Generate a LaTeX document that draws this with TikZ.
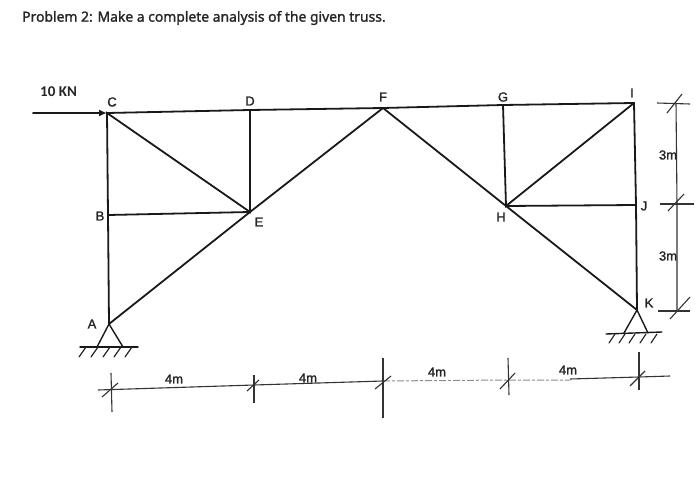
\documentclass[tikz,border=0pt]{standalone}
\usepackage{fontspec}
\setmainfont{Carlito}
\newfontfamily\handfont[FakeBold=1.5]{Liberation Sans}
\newfontfamily\titlefont[FakeBold=1.5]{Noto Sans}
\usetikzlibrary{arrows.meta}
\tikzset{
  member/.style={draw=black!90,line width=1.8pt,line cap=round},
  thinln/.style={draw=black!85,line width=1.2pt,line cap=round},
  dimln/.style={draw=black!80,line width=1.1pt},
  faded/.style={draw=black!45,line width=1pt,dash pattern=on 7pt off 2pt on 3pt off 2pt},
  hand/.style={font=\handfont\fontsize{13}{15}\selectfont,text=black!85,inner sep=0pt},
  dimtxt/.style={font=\handfont\fontsize{13}{15}\selectfont,text=black!85,inner sep=0pt},
}
\begin{document}
\begin{tikzpicture}[x=1pt,y=-1pt]
\useasboundingbox (0,0) rectangle (700,489);
% joints
\coordinate (A) at (109,324); \coordinate (B) at (108,215);
\coordinate (C) at (107,113); \coordinate (D) at (250,110);
\coordinate (E) at (250,212); \coordinate (F) at (383,108);
\coordinate (G) at (503,105); \coordinate (H) at (506,206);
\coordinate (I) at (634,103); \coordinate (J) at (636,205);
\coordinate (K) at (637,310); \coordinate (L) at (33,113);
% members
\draw[member] (C)--(D)--(F)--(G)--(I)--(J)--(K)--(H)--(F)--(E)--(A)--(B)--(C)--(E)--(D);
\draw[member] (B)--(E);
\draw[member] (G)--(H)--(I);
\draw[member] (H)--(J);
\draw[member,-{Latex[length=8pt,width=7pt]}] (L)--(C);
% supports
\coordinate (Aa) at (97,347); \coordinate (Ab) at (123,347);
\coordinate (Ka) at (624,333); \coordinate (Kb) at (648,333);
\draw[member,line width=1.4pt] (Aa)--(A)--(Ab);
\draw[member,line width=1.4pt] (Ka)--(K)--(Kb);
\coordinate (Ag1) at (80,347); \coordinate (Ag2) at (138,347);
\coordinate (Kg1) at (606,334); \coordinate (Kg2) at (662,332);
\draw[member,line width=1.4pt] (Ag1)--(Ag2);
\draw[member,line width=1.4pt] (Kg1)--(Kg2);
\foreach \x in {86,98,110,121,132} \draw[thinln] (\x,347)--(\x-7,357);
\foreach \x in {615,625,635,646,657} \draw[thinln] (\x,334)--(\x-6,343);
% vertical dimension
\coordinate (V1) at (676,103); \coordinate (V2) at (677,205); \coordinate (V3) at (677,311);
\draw[dimln] (V1)--(V2)--(V3);
\draw[dimln] (657,103)--(690,104); \draw[dimln] (660,204)--(694,204); \draw[dimln] (658,311)--(690,311);
\draw[dimln] (667,113)--(682,94); \draw[dimln] (668,211)--(684,194); \draw[dimln] (670,319)--(690,297);
% horizontal dimension
\coordinate (H1) at (98,390); \coordinate (H2) at (254,385); \coordinate (H3) at (383,381);
\coordinate (H4) at (508,380); \coordinate (H5) at (639,377); \coordinate (H6) at (670,376);
\draw[dimln] (H1)--(H2)--(H3);
\draw[faded] (H3)--(H4)--(570,380);
\draw[dimln] (570,379)--(H5)--(H6);
\draw[dimln] (111,373)--(112,412); \draw[dimln] (254,375)--(254,403);
\draw[dimln] (383,358)--(383,418); \draw[dimln] (508,358)--(509,395); \draw[dimln] (639,352)--(639,390);
\draw[dimln] (102,397)--(118,383); \draw[dimln] (247,391)--(259,380);
\draw[dimln] (375,389)--(391,376); \draw[dimln] (500,389)--(515,373); \draw[dimln] (630,386)--(645,371);
% text
\node[anchor=west,inner sep=0pt,font=\titlefont\fontsize{13.9}{16}\selectfont,text=black!85] (title) at (22,18) {Problem 2: Make a complete analysis of the given truss.};
\node[anchor=west,inner sep=0pt,font=\fontsize{15}{17}\selectfont\bfseries,text=black!85] (load) at (40,92) {10 KN};
\node[hand] (lc) at (112,102) {C};
\node[hand] (ld) at (250,101) {D};
\node[hand] (lf) at (383,97) {F};
\node[hand] (lg) at (503,97) {G};
\node[hand] (li) at (632,93) {I};
\node[hand] (lb) at (100,216) {B};
\node[hand] (le) at (259,222) {E};
\node[hand] (lh) at (501,217) {H};
\node[hand] (lj) at (644,206) {J};
\node[hand] (lk) at (649,303) {K};
\node[hand] (la) at (92,324) {A};
\node[dimtxt] (d1) at (668,155) {3m};
\node[dimtxt] (d2) at (668,256) {3m};
\node[dimtxt] (d3) at (174,379) {4m};
\node[dimtxt] (d4) at (308,378) {4m};
\node[dimtxt] (d5) at (437,372) {4m};
\node[dimtxt] (d6) at (568,370) {4m};
\end{tikzpicture}
\end{document}
